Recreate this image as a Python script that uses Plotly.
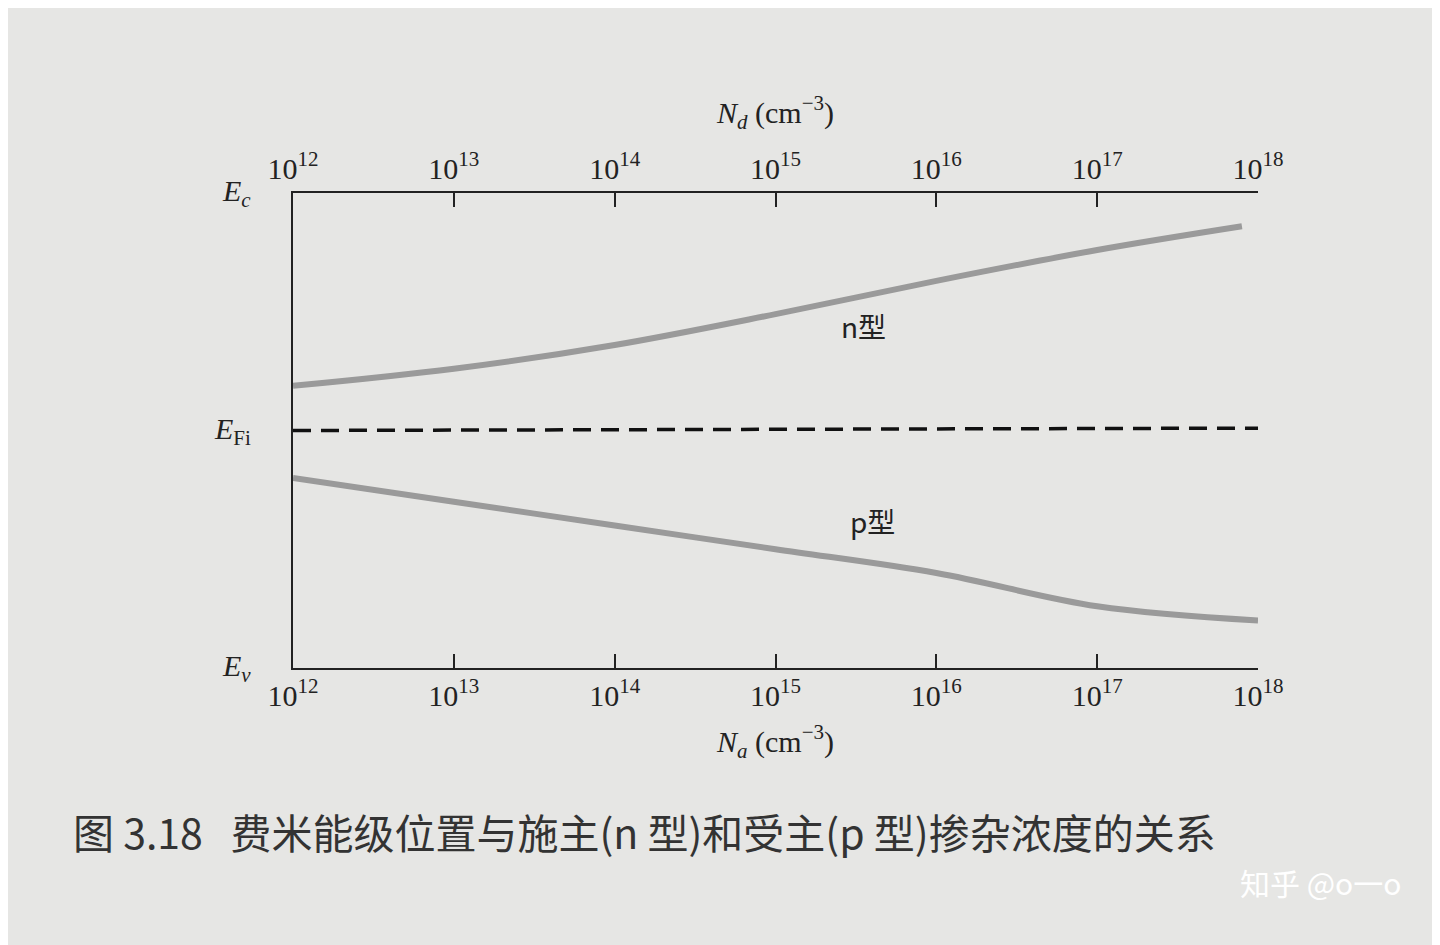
import plotly.graph_objects as go

exps = [12, 13, 14, 15, 16, 17, 17.9]
n_type = [0.594, 0.63, 0.68, 0.745, 0.815, 0.88, 0.93]
p_exps = [12, 13, 14, 15, 16, 17, 18]
p_type = [0.40, 0.35, 0.30, 0.25, 0.20, 0.13, 0.10]
efi_exps = [12, 18]
efi = [0.5, 0.505]
tick_exps = [12, 13, 14, 15, 16, 17, 18]
tick_text = [f"10<sup>{e}</sup>" for e in tick_exps]

fig = go.Figure()
fig.add_trace(go.Scatter(x=[10**e for e in exps], y=n_type, mode="lines",
                         line=dict(color="#9a9a9a", width=6, shape="spline"), showlegend=False))
fig.add_trace(go.Scatter(x=[10**e for e in p_exps], y=p_type, mode="lines",
                         line=dict(color="#9a9a9a", width=6, shape="spline"), showlegend=False))
fig.add_trace(go.Scatter(x=[10**e for e in efi_exps], y=efi, mode="lines",
                         line=dict(color="#111", width=3.5, dash="18px,10px"), showlegend=False))
fig.add_trace(go.Scatter(x=[1e12, 1e18], y=[None, None], xaxis="x2", showlegend=False))

font = dict(family="Liberation Serif", size=30, color="#222")
axcommon = dict(type="log", range=[12, 18], tickvals=[10**e for e in tick_exps], ticktext=tick_text,
                ticks="inside", ticklen=14, tickwidth=2, tickcolor="#222", showline=True,
                linecolor="#222", linewidth=2, showgrid=False, zeroline=False, tickfont=font)
fig.update_layout(
    width=1440, height=945, paper_bgcolor="#e6e6e4", plot_bgcolor="#e6e6e4",
    margin=dict(l=285, r=190, t=185, b=285),
    xaxis=dict(**axcommon, title=dict(text="<i>N<sub>a</sub></i> (cm<sup>−3</sup>)", font=font, standoff=20)),
    xaxis2=dict(**axcommon, overlaying="x", side="top",
                title=dict(text="<i>N<sub>d</sub></i> (cm<sup>−3</sup>)", font=font, standoff=15)),
    yaxis=dict(range=[0, 1], showticklabels=False, ticks="", showline=True, linecolor="#222",
               linewidth=2, showgrid=False, zeroline=False),
    font=font,
)
anns = [
    (0, "<i>E<sub>v</sub></i>"), (0.5, "<i>E</i><sub>Fi</sub>"), (1, "<i>E<sub>c</sub></i>"),
]
for y, t in anns:
    fig.add_annotation(x=0, xref="paper", y=y, yref="y", text=t, showarrow=False,
                       xanchor="right", xshift=-40, font=font)
cjk = dict(family="Noto Sans CJK SC", size=28, color="#222")
fig.add_annotation(x=15.55, y=0.72, text="n型", showarrow=False, font=cjk, xref="x", yref="y")
fig.add_annotation(x=15.6, y=0.31, text="p型", showarrow=False, font=cjk, xref="x", yref="y")
fig.add_annotation(x=-0.23, xref="paper", y=-0.41, yref="paper", xanchor="left",
                   text="图 3.18   费米能级位置与施主(n 型)和受主(p 型)掺杂浓度的关系",
                   showarrow=False, font=dict(family="Noto Sans CJK SC", size=41, color="#333"))
fig.add_annotation(x=1.15, xref="paper", y=-0.50, yref="paper", xanchor="right",
                   text="知乎 @o一o", showarrow=False,
                   font=dict(family="Noto Sans CJK SC", size=30, color="#ffffff"))
fig.write_html("out.html")
